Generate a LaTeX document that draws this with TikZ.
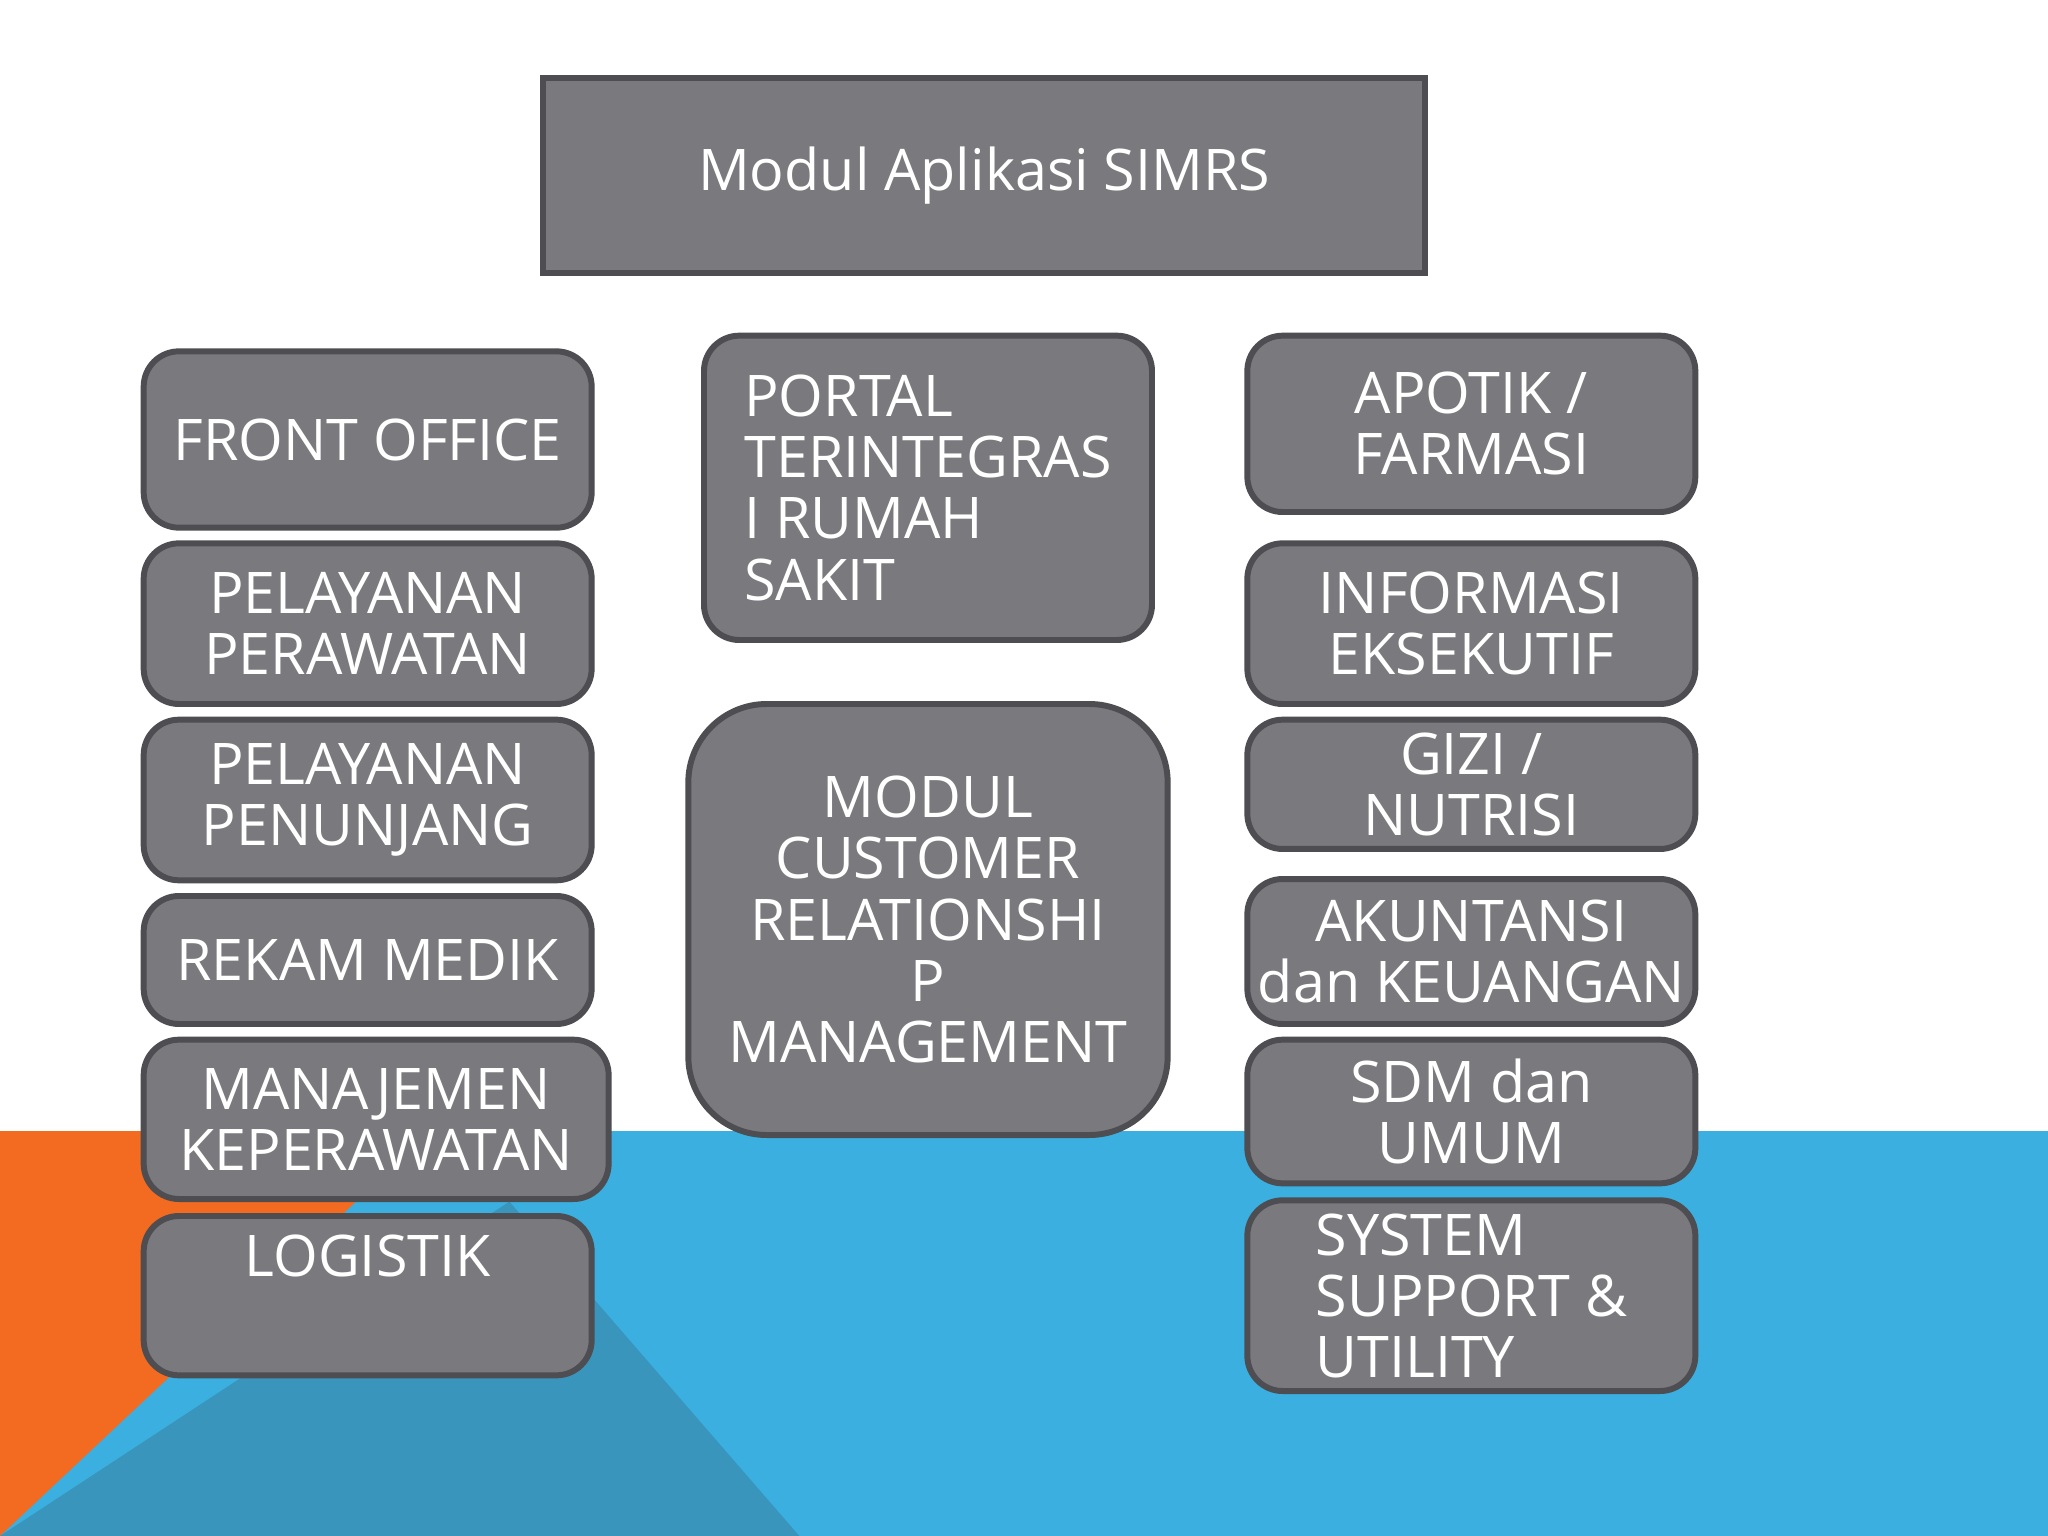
\documentclass[tikz,border=0pt]{standalone}
\usepackage{fontspec}
\setmainfont{Open Sans}
\definecolor{boxfill}{HTML}{7A7A7E}
\definecolor{boxedge}{HTML}{4E4E52}
\definecolor{bgblue}{HTML}{3AAFE0}
\definecolor{bgteal}{HTML}{3A95BD}
\definecolor{bgorange}{HTML}{F26B21}
\tikzset{
  box/.style={draw=boxedge,fill=boxfill,line width=1.3pt,rounded corners=0.27cm,text=white,
    font=\fontsize{12.5}{13.3}\selectfont,align=center,inner sep=0pt},
}
\newcommand\mybox[7][]{\node[box,#1,minimum width={(#5-#3)*0.01cm},minimum height={(#6-#4)*0.01cm}] (#2) at ({(#3+#5)/2},{(#4+#6)/2}) {#7};}
\begin{document}
\begin{tikzpicture}[x=0.01cm,y=-0.01cm]
\fill[white] (0,0) rectangle (1568,1176);
\useasboundingbox (0,0) rectangle (1568,1176);
\fill[bgblue] (0,866) rectangle (1568,1176);
\fill[bgorange] (0,866) -- (330,866) -- (0,1176) -- cycle;
\fill[bgteal] (0,1176) -- (390,920) -- (612,1176) -- cycle;
\mybox[rounded corners=0pt]{title}{416}{60}{1091}{209}{Modul Aplikasi SIMRS}
\mybox{fo}{110}{269}{453}{404}{FRONT OFFICE}
\mybox{pp}{110}{416}{453}{539}{PELAYANAN\\PERAWATAN}
\mybox{pj}{110}{551}{453}{674}{PELAYANAN\\PENUNJANG}
\mybox{rm}{110}{686}{453}{784}{REKAM MEDIK}
\mybox{mk}{110}{796}{466}{918}{MANAJEMEN\\KEPERAWATAN}
\mybox{lg}{110}{931}{453}{1053}{LOGISTIK\\\strut}
\mybox[align=left]{portal}{539}{257}{882}{490}{PORTAL\\TERINTEGRAS\\I RUMAH\\SAKIT}
\mybox[rounded corners=0.6cm]{crm}{527}{539}{894}{869}{MODUL\\CUSTOMER\\RELATIONSHI\\P\\MANAGEMENT}
\mybox{ap}{955}{257}{1298}{392}{APOTIK /\\FARMASI}
\mybox{ie}{955}{416}{1298}{539}{INFORMASI\\EKSEKUTIF}
\mybox{gz}{955}{551}{1298}{650}{GIZI /\\NUTRISI}
\mybox{ak}{955}{673}{1298}{784}{AKUNTANSI\\dan KEUANGAN}
\mybox{sdm}{955}{796}{1298}{906}{SDM dan\\UMUM}
\mybox[align=left]{ss}{955}{919}{1298}{1065}{SYSTEM\\SUPPORT \&\\UTILITY\hspace{1.6cm}}
\end{tikzpicture}
\end{document}
